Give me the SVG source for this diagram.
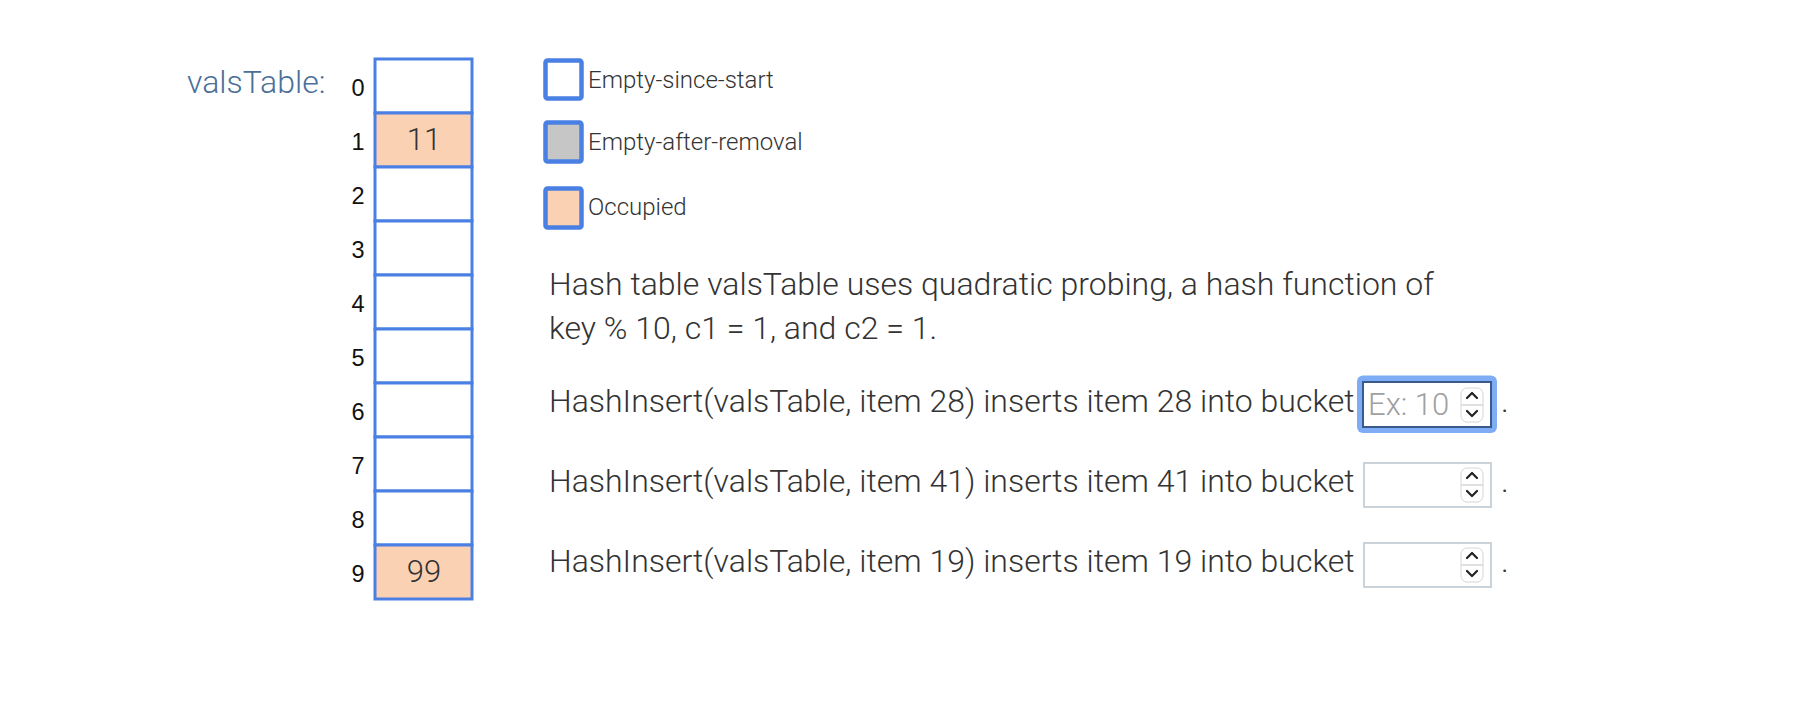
<svg xmlns="http://www.w3.org/2000/svg" width="1802" height="704" viewBox="0 0 1802 704">
<style>
.t{font-family:Roboto,"Liberation Sans",sans-serif;font-weight:300;fill:#333}
.idx{font-family:"Liberation Sans",Arial,sans-serif;font-size:23.5px;fill:#111;text-anchor:middle}
.cell{stroke:#4a80e4;stroke-width:3;fill:#fff}
.occ{fill:#fbd1b3}
.val{font-family:Roboto,"Liberation Sans",sans-serif;font-weight:300;font-size:31px;fill:#333;text-anchor:middle}
.leg{stroke:#4a80e4;stroke-width:4.5}
.lt{font-size:24px}
.q{font-size:32px}
.inp{fill:#fff;stroke:#c9d3d9;stroke-width:2}
.spin{fill:#fff;stroke:#d6d6d6;stroke-width:1}
.chev{fill:none;stroke:#222;stroke-width:2.2;stroke-linecap:round;stroke-linejoin:round}
</style>
<rect width="1802" height="704" fill="#fff"/>
<g id="title">
<text x="187" y="93" style="font-family:Roboto,'Liberation Sans',sans-serif;font-weight:300;font-size:32px;fill:#4a6f98">valsTable:</text>
</g>
<g id="table">
<rect class="cell" x="375" y="59" width="97" height="54"/>
<rect class="cell occ" x="375" y="113" width="97" height="54"/>
<rect class="cell" x="375" y="167" width="97" height="54"/>
<rect class="cell" x="375" y="221" width="97" height="54"/>
<rect class="cell" x="375" y="275" width="97" height="54"/>
<rect class="cell" x="375" y="329" width="97" height="54"/>
<rect class="cell" x="375" y="383" width="97" height="54"/>
<rect class="cell" x="375" y="437" width="97" height="54"/>
<rect class="cell" x="375" y="491" width="97" height="54"/>
<rect class="cell occ" x="375" y="545" width="97" height="54"/>
<text class="val" x="424" y="150">11</text>
<text class="val" x="424" y="582">99</text>
<text class="idx" x="358" y="96">0</text>
<text class="idx" x="358" y="150">1</text>
<text class="idx" x="358" y="204">2</text>
<text class="idx" x="358" y="258">3</text>
<text class="idx" x="358" y="312">4</text>
<text class="idx" x="358" y="366">5</text>
<text class="idx" x="358" y="420">6</text>
<text class="idx" x="358" y="474">7</text>
<text class="idx" x="358" y="528">8</text>
<text class="idx" x="358" y="582">9</text>
</g>
<g id="legend">
<rect class="leg" x="545.5" y="60.5" width="36" height="38" rx="2" fill="#fff"/>
<text class="t lt" x="588" y="88">Empty-since-start</text>
<rect class="leg" x="545.5" y="122.5" width="36" height="39" rx="2" fill="#c6c6c6"/>
<text class="t lt" x="588" y="150">Empty-after-removal</text>
<rect class="leg" x="545.5" y="188.5" width="36" height="39" rx="2" fill="#fbd1b3"/>
<text class="t lt" x="588" y="215">Occupied</text>
</g>
<g id="description">
<text class="t q" x="549" y="295">Hash table valsTable uses quadratic probing, a hash function of</text>
<text class="t q" x="549" y="339">key % 10, c1 = 1, and c2 = 1.</text>
</g>
<g id="q1">
<text class="t q" x="549" y="412">HashInsert(valsTable, item 28) inserts item 28 into bucket</text>
<rect x="1357" y="375.5" width="140" height="57.5" rx="6" fill="#7fadf5"/>
<rect x="1363" y="382" width="128" height="45" fill="#fff" stroke="#3b5a8c" stroke-width="2"/>
<text x="1368" y="415" style="font-family:Roboto,'Liberation Sans',sans-serif;font-weight:300;font-size:31px;fill:#a0a0a0">Ex: 10</text>
<rect class="spin" x="1461" y="388" width="22" height="34" rx="6"/>
<line x1="1461" y1="405" x2="1483" y2="405" stroke="#d6d6d6" stroke-width="1.5"/>
<polyline class="chev" points="1467,398 1472,393 1477,398"/>
<polyline class="chev" points="1467,411 1472,416 1477,411"/>
<text class="t q" x="1501" y="412">.</text>
</g>
<g id="q2">
<text class="t q" x="549" y="492">HashInsert(valsTable, item 41) inserts item 41 into bucket</text>
<rect class="inp" x="1364" y="463" width="127" height="44"/>
<rect class="spin" x="1461" y="468" width="22" height="34" rx="6"/>
<line x1="1461" y1="485" x2="1483" y2="485" stroke="#d6d6d6" stroke-width="1.5"/>
<polyline class="chev" points="1467,478 1472,473 1477,478"/>
<polyline class="chev" points="1467,491 1472,496 1477,491"/>
<text class="t q" x="1501" y="492">.</text>
</g>
<g id="q3">
<text class="t q" x="549" y="572">HashInsert(valsTable, item 19) inserts item 19 into bucket</text>
<rect class="inp" x="1364" y="543" width="127" height="44"/>
<rect class="spin" x="1461" y="548" width="22" height="34" rx="6"/>
<line x1="1461" y1="565" x2="1483" y2="565" stroke="#d6d6d6" stroke-width="1.5"/>
<polyline class="chev" points="1467,558 1472,553 1477,558"/>
<polyline class="chev" points="1467,571 1472,576 1477,571"/>
<text class="t q" x="1501" y="572">.</text>
</g>
<g id="connectors"></g>
</svg>
